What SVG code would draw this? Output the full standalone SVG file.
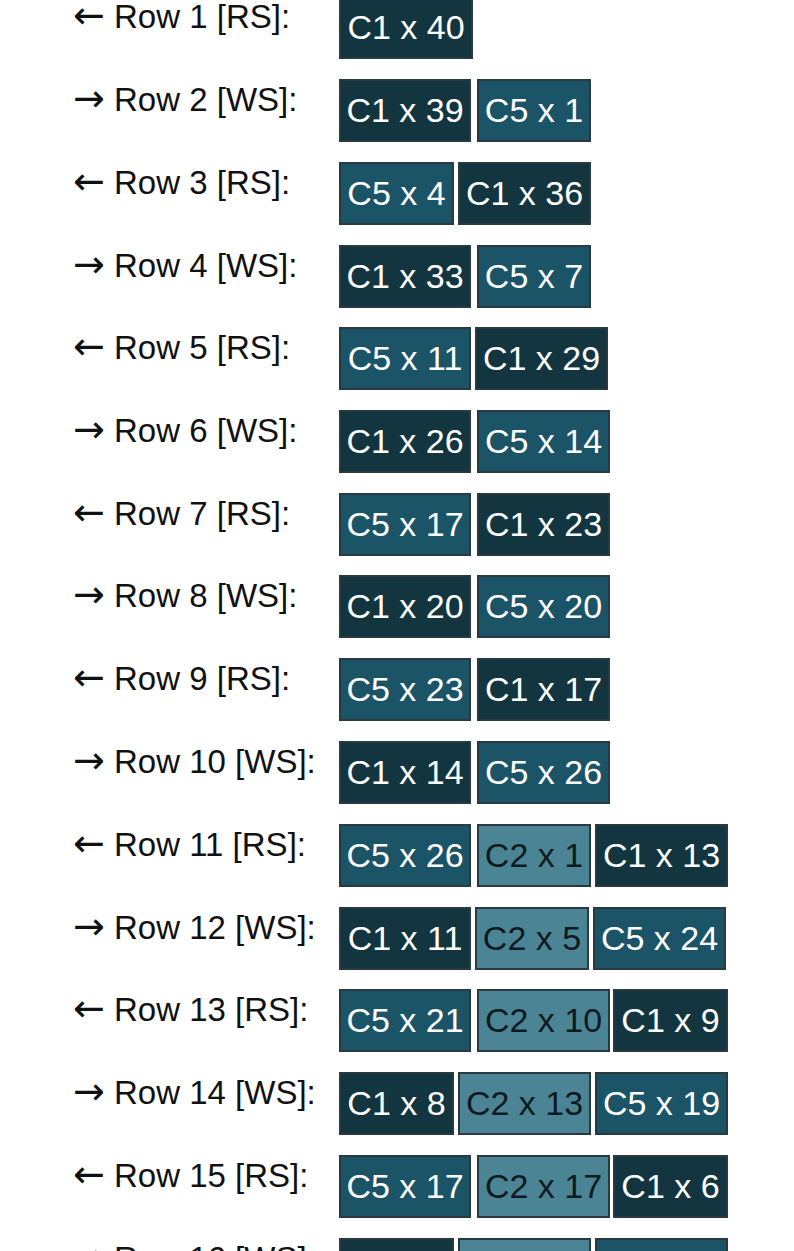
<svg xmlns="http://www.w3.org/2000/svg" width="794" height="1251" viewBox="0 0 794 1251">
<style>
text{font-family:"Liberation Sans",Arial,sans-serif;font-size:33px}
.l{fill:#111}
.a{font-family:"DejaVu Sans",sans-serif;font-size:38px}
.b{stroke:#2a3a40;stroke-width:2}
.c1{fill:#133540}.c5{fill:#1c5467}.c2{fill:#4b8595}
.t{fill:#fff;text-anchor:middle;font-size:34px}
.t2{fill:#0d1a20;text-anchor:middle;font-size:34px}
</style>
<rect width="794" height="1251" fill="#fff"/>
<g id="r1" transform="translate(0,-3)"><text class="l" x="73" y="31"><tspan class="a">←</tspan> Row 1 [RS]:</text>
<rect class="b c1" x="340" y="0" width="132" height="61"/><text class="t" x="406" y="42">C1 x 40</text></g>
<g id="r2" transform="translate(0,80)"><text class="l" x="73" y="31"><tspan class="a">→</tspan> Row 2 [WS]:</text>
<rect class="b c1" x="340" y="0" width="130" height="61"/><text class="t" x="405" y="42">C1 x 39</text>
<rect class="b c5" x="478" y="0" width="112" height="61"/><text class="t" x="534" y="42">C5 x 1</text></g>
<g id="r3" transform="translate(0,163)"><text class="l" x="73" y="31"><tspan class="a">←</tspan> Row 3 [RS]:</text>
<rect class="b c5" x="340" y="0" width="113" height="61"/><text class="t" x="396.5" y="42">C5 x 4</text>
<rect class="b c1" x="459" y="0" width="131" height="61"/><text class="t" x="524.5" y="42">C1 x 36</text></g>
<g id="r4" transform="translate(0,246)"><text class="l" x="73" y="31"><tspan class="a">→</tspan> Row 4 [WS]:</text>
<rect class="b c1" x="340" y="0" width="130" height="61"/><text class="t" x="405" y="42">C1 x 33</text>
<rect class="b c5" x="478" y="0" width="112" height="61"/><text class="t" x="534" y="42">C5 x 7</text></g>
<g id="r5" transform="translate(0,328)"><text class="l" x="73" y="31"><tspan class="a">←</tspan> Row 5 [RS]:</text>
<rect class="b c5" x="340" y="0" width="130" height="61"/><text class="t" x="405" y="42">C5 x 11</text>
<rect class="b c1" x="476" y="0" width="131" height="61"/><text class="t" x="541.5" y="42">C1 x 29</text></g>
<g id="r6" transform="translate(0,411)"><text class="l" x="73" y="31"><tspan class="a">→</tspan> Row 6 [WS]:</text>
<rect class="b c1" x="340" y="0" width="130" height="61"/><text class="t" x="405" y="42">C1 x 26</text>
<rect class="b c5" x="478" y="0" width="131" height="61"/><text class="t" x="543.5" y="42">C5 x 14</text></g>
<g id="r7" transform="translate(0,494)"><text class="l" x="73" y="31"><tspan class="a">←</tspan> Row 7 [RS]:</text>
<rect class="b c5" x="340" y="0" width="130" height="61"/><text class="t" x="405" y="42">C5 x 17</text>
<rect class="b c1" x="478" y="0" width="131" height="61"/><text class="t" x="543.5" y="42">C1 x 23</text></g>
<g id="r8" transform="translate(0,576)"><text class="l" x="73" y="31"><tspan class="a">→</tspan> Row 8 [WS]:</text>
<rect class="b c1" x="340" y="0" width="130" height="61"/><text class="t" x="405" y="42">C1 x 20</text>
<rect class="b c5" x="478" y="0" width="131" height="61"/><text class="t" x="543.5" y="42">C5 x 20</text></g>
<g id="r9" transform="translate(0,659)"><text class="l" x="73" y="31"><tspan class="a">←</tspan> Row 9 [RS]:</text>
<rect class="b c5" x="340" y="0" width="130" height="61"/><text class="t" x="405" y="42">C5 x 23</text>
<rect class="b c1" x="478" y="0" width="131" height="61"/><text class="t" x="543.5" y="42">C1 x 17</text></g>
<g id="r10" transform="translate(0,742)"><text class="l" x="73" y="31"><tspan class="a">→</tspan> Row 10 [WS]:</text>
<rect class="b c1" x="340" y="0" width="130" height="61"/><text class="t" x="405" y="42">C1 x 14</text>
<rect class="b c5" x="478" y="0" width="131" height="61"/><text class="t" x="543.5" y="42">C5 x 26</text></g>
<g id="r11" transform="translate(0,825)"><text class="l" x="73" y="31"><tspan class="a">←</tspan> Row 11 [RS]:</text>
<rect class="b c5" x="340" y="0" width="130" height="61"/><text class="t" x="405" y="42">C5 x 26</text>
<rect class="b c2" x="478" y="0" width="112" height="61"/><text class="t2" x="534" y="42">C2 x 1</text>
<rect class="b c1" x="596" y="0" width="131" height="61"/><text class="t" x="661.5" y="42">C1 x 13</text></g>
<g id="r12" transform="translate(0,908)"><text class="l" x="73" y="31"><tspan class="a">→</tspan> Row 12 [WS]:</text>
<rect class="b c1" x="340" y="0" width="130" height="61"/><text class="t" x="405" y="42">C1 x 11</text>
<rect class="b c2" x="476" y="0" width="112" height="61"/><text class="t2" x="532" y="42">C2 x 5</text>
<rect class="b c5" x="594" y="0" width="131" height="61"/><text class="t" x="659.5" y="42">C5 x 24</text></g>
<g id="r13" transform="translate(0,990)"><text class="l" x="73" y="31"><tspan class="a">←</tspan> Row 13 [RS]:</text>
<rect class="b c5" x="340" y="0" width="130" height="61"/><text class="t" x="405" y="42">C5 x 21</text>
<rect class="b c2" x="478" y="0" width="131" height="61"/><text class="t2" x="543.5" y="42">C2 x 10</text>
<rect class="b c1" x="614" y="0" width="113" height="61"/><text class="t" x="670.5" y="42">C1 x 9</text></g>
<g id="r14" transform="translate(0,1073)"><text class="l" x="73" y="31"><tspan class="a">→</tspan> Row 14 [WS]:</text>
<rect class="b c1" x="340" y="0" width="113" height="61"/><text class="t" x="396.5" y="42">C1 x 8</text>
<rect class="b c2" x="459" y="0" width="131" height="61"/><text class="t2" x="524.5" y="42">C2 x 13</text>
<rect class="b c5" x="596" y="0" width="131" height="61"/><text class="t" x="661.5" y="42">C5 x 19</text></g>
<g id="r15" transform="translate(0,1156)"><text class="l" x="73" y="31"><tspan class="a">←</tspan> Row 15 [RS]:</text>
<rect class="b c5" x="340" y="0" width="130" height="61"/><text class="t" x="405" y="42">C5 x 17</text>
<rect class="b c2" x="478" y="0" width="131" height="61"/><text class="t2" x="543.5" y="42">C2 x 17</text>
<rect class="b c1" x="614" y="0" width="113" height="61"/><text class="t" x="670.5" y="42">C1 x 6</text></g>
<g id="r16" transform="translate(0,1239)"><text class="l" x="73" y="31"><tspan class="a">→</tspan> Row 16 [WS]:</text>
<rect class="b c1" x="340" y="0" width="113" height="61"/>
<rect class="b c2" x="459" y="0" width="131" height="61"/>
<rect class="b c5" x="596" y="0" width="131" height="61"/></g>
<g id="connectors"></g>
</svg>
